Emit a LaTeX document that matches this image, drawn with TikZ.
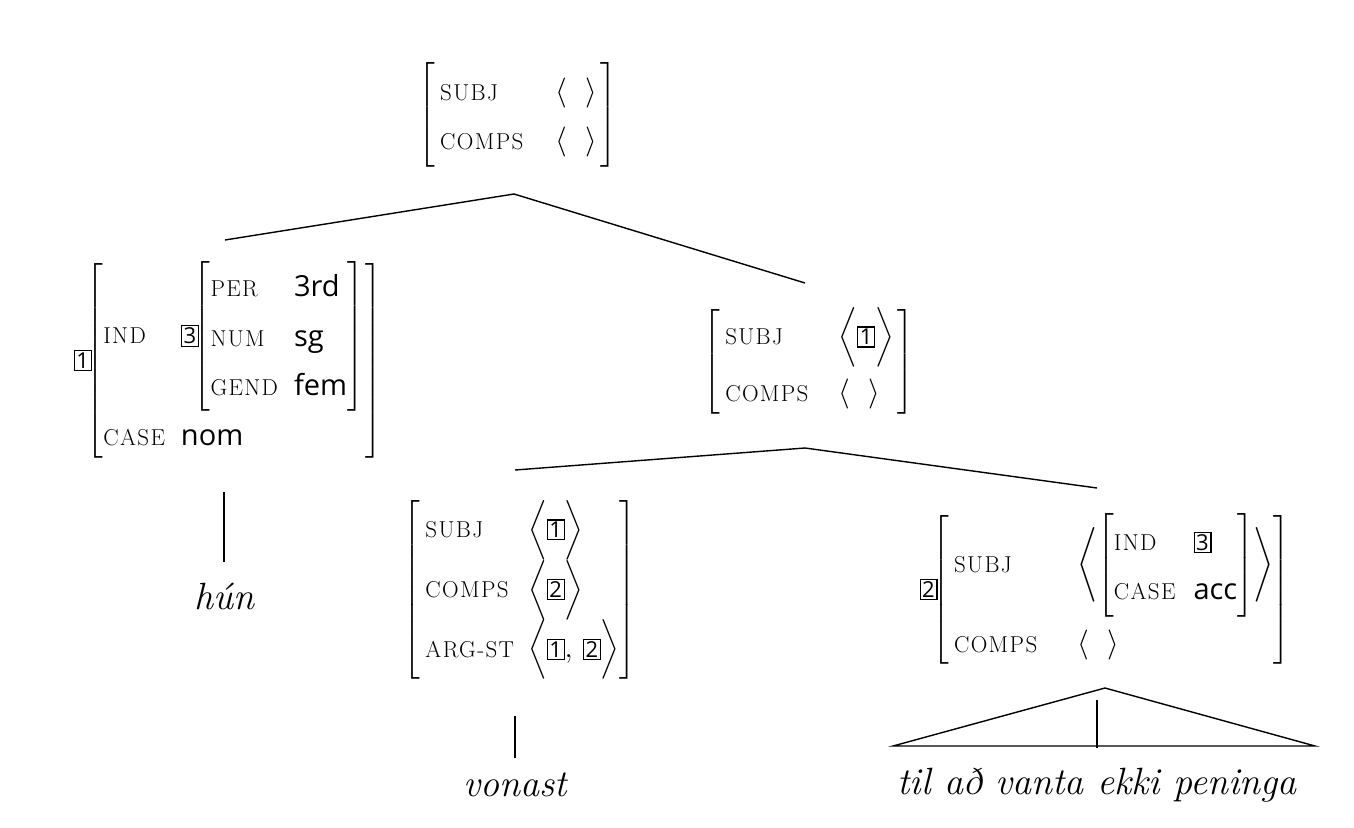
\documentclass[tikz,border=0pt]{standalone}
\usepackage{fix-cm}
\usepackage{amsmath}
\usepackage{fontspec}
\setmainfont{Latin Modern Roman}
\setsansfont{Open Sans}
\newcommand\tg[1]{{\setlength{\fboxsep}{1.5pt}\setlength{\fboxrule}{1.2pt}\fbox{\fontsize{22}{22}\selectfont\sffamily #1}}}
\newcommand\ft[1]{{\fontsize{23}{23}\selectfont\addfontfeatures{LetterSpace=6}#1}}
\newcommand\vl[1]{{\fontsize{29}{29}\selectfont\sffamily #1}}
\newcommand\lng[1]{\left\langle\vphantom{\Big|}#1\right\rangle}
\begin{document}
\begin{tikzpicture}[x=1pt,y=-1pt,line width=1.4pt,
  avm/.style={inner sep=0pt,font=\fontsize{30}{38}\selectfont},
  leaf/.style={inner sep=0pt,font=\fontsize{38}{40}\selectfont\itshape}]
\useasboundingbox (0,0) rectangle (1354,827);
\renewcommand{\arraystretch}{1.3}
\node[avm] (top) at (518,115) {$\left[\,\begin{tabular}{@{}l@{\hspace{32pt}}l@{\hspace{4pt}}}\ft{SUBJ} & $\langle\ \ \rangle$\\ \ft{COMPS} & $\langle\ \ \rangle$\end{tabular}\right]$};
\node[avm] (hun) at (228,361) {\tg{1}$\!\left[\begin{tabular}{@{}l@{\hspace{16pt}}l@{\hspace{2pt}}}\ft{IND} & \tg{3}$\!\left[\begin{tabular}{@{}l@{\hspace{16pt}}l@{}}\ft{PER} & \vl{3rd}\\ \ft{NUM} & \vl{sg}\\ \ft{GEND} & \vl{fem}\end{tabular}\right]$\\ \ft{CASE} & \vl{nom}\end{tabular}\right]$};
\node[avm] (vp) at (809,362) {$\left[\,\begin{tabular}{@{}l@{\hspace{30pt}}l@{\hspace{4pt}}}\ft{SUBJ} & $\lng{\tg{1}}$\\ \ft{COMPS} & $\langle\ \ \rangle$\end{tabular}\right]$};
\node[avm] (von) at (520,590) {$\left[\,\begin{tabular}{@{}l@{\hspace{14pt}}l@{\hspace{0pt}}}\ft{SUBJ} & $\lng{\tg{1}}$\\ \ft{COMPS} & $\lng{\tg{2}}$\\ \ft{ARG-ST} & $\lng{\tg{1},\,\tg{2}}$\end{tabular}\right]$};
\node[avm] (til) at (1105,590) {\tg{2}$\!\left[\,\begin{tabular}{@{}l@{\hspace{40pt}}l@{}}\ft{SUBJ} & $\left\langle\left[\begin{tabular}{@{}l@{\hspace{18pt}}l@{}}\ft{IND} & \tg{3}\\ \ft{CASE} & \vl{acc}\end{tabular}\right]\right\rangle$\\ \ft{COMPS} & $\langle\ \ \rangle$\end{tabular}\right]$};
\coordinate (a) at (514,194);
\coordinate (b) at (805,448);
\node[leaf] (w1) at (224,596) {h\'un};
\node[leaf] (w2) at (515,785) {vonast};
\node[leaf] (w3) at (1097,785) {til a\dh\ vanta ekki peninga};
\draw (225,240) -- (a) -- (805,283);
\draw (515,470) -- (b) -- (1097,488);
\draw (224,492) -- (224,562);
\draw (515,716) -- (515,758);
\draw (893,746) -- (1105,688) -- (1315,746) -- cycle;
\draw (1097,700) -- (1097,748);
\end{tikzpicture}
\end{document}
